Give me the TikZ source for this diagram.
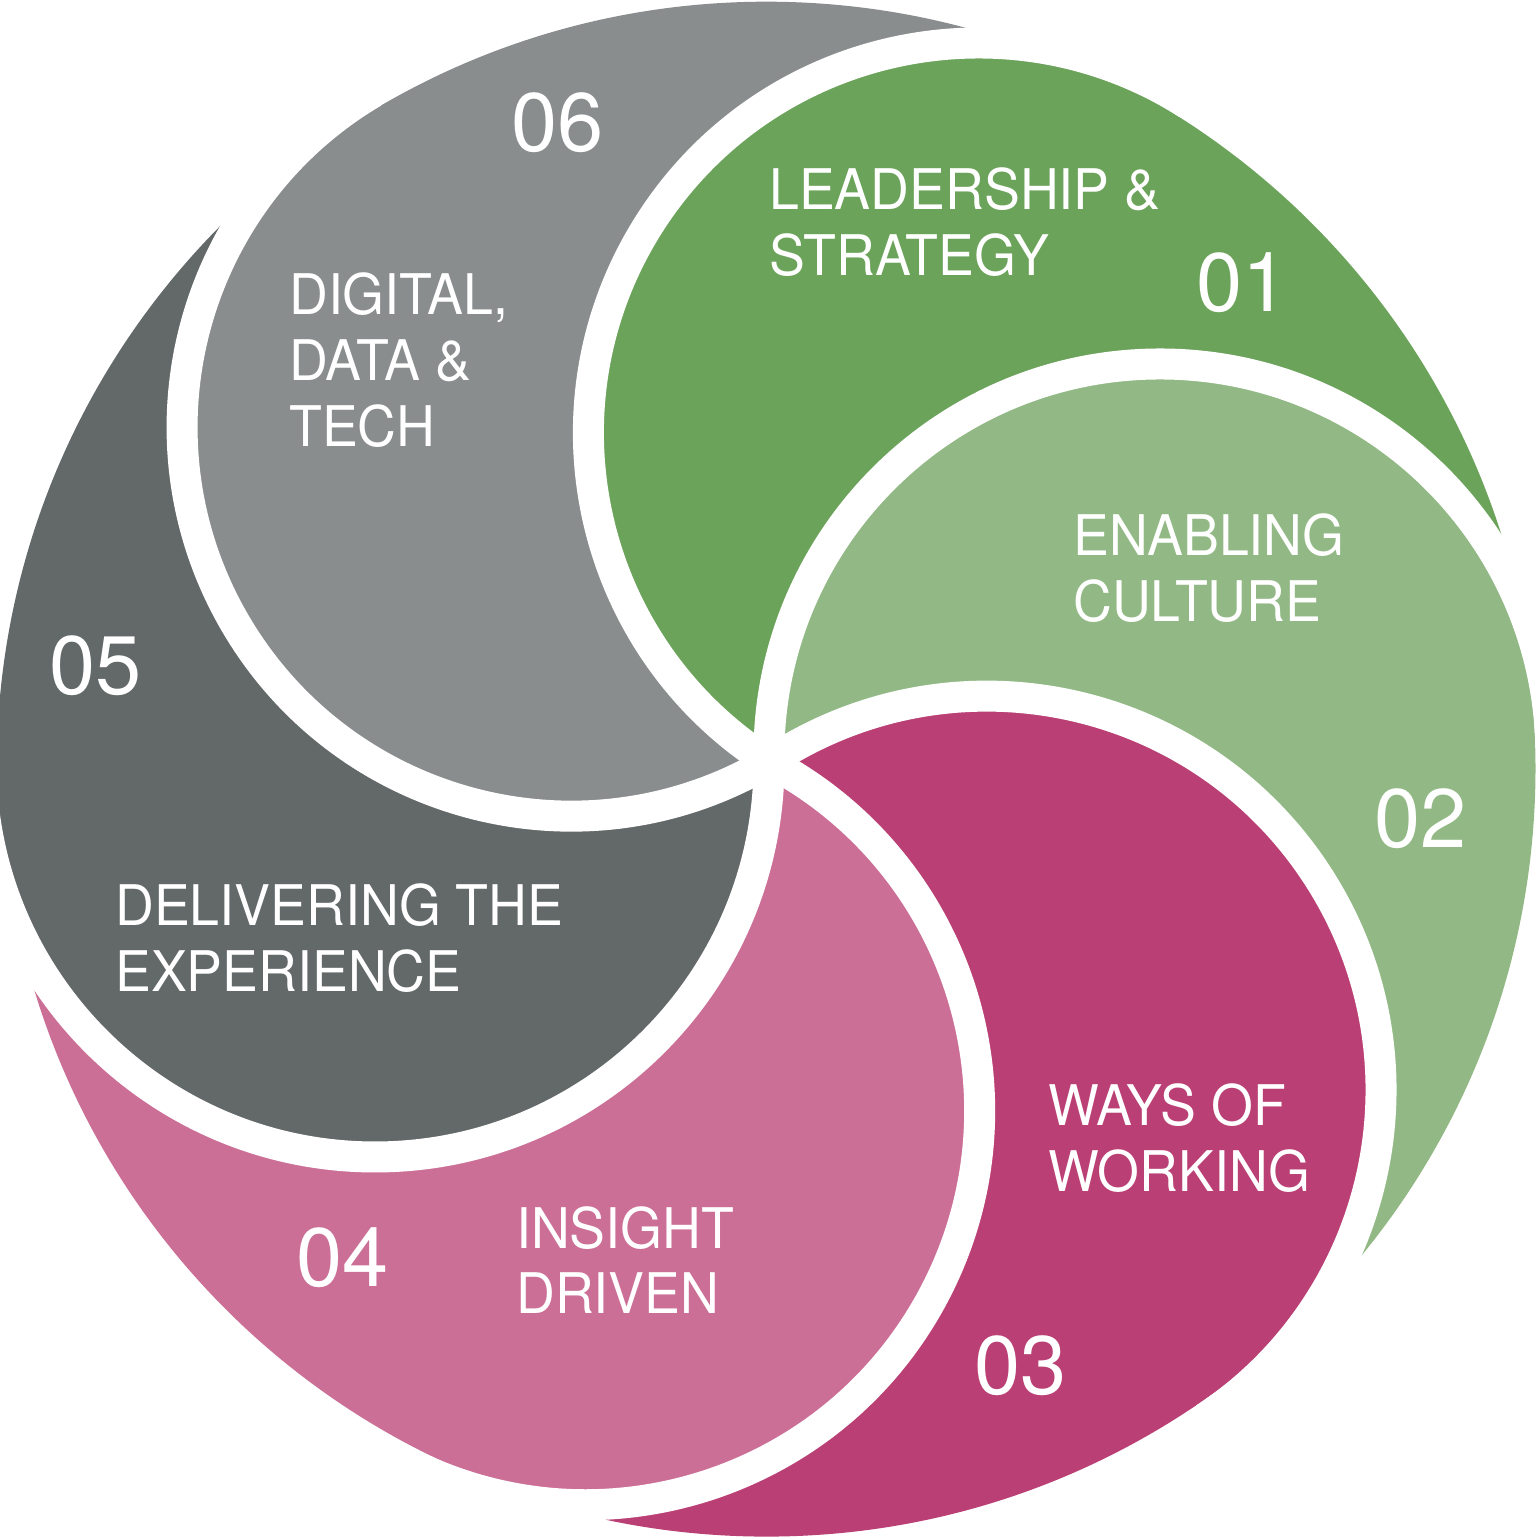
\documentclass[tikz,border=0pt]{standalone}
\usepackage{fontspec}
\setmainfont{TeX Gyre Heros}
\newfontfamily\lblfont{TeX Gyre Heros}[FakeStretch=0.96]
\usetikzlibrary{calc}
\definecolor{gray06}{HTML}{8A8D8E}
\definecolor{dgray05}{HTML}{636868}
\definecolor{green01}{HTML}{6CA35B}
\definecolor{lgreen02}{HTML}{92B985}
\definecolor{mag03}{HTML}{BA3F74}
\definecolor{pink04}{HTML}{CB6F96}
\begin{document}
\begin{tikzpicture}[x=1pt,y=1pt,
  whitegap/.style={white, line width=31pt},
  numtext/.style={anchor=base west, inner sep=0pt, text=white, font=\fontsize{83}{83}\selectfont},
  lbltext/.style={anchor=base west, inner sep=0pt, text=white, font=\lblfont\fontsize{56}{66}\selectfont}]
\useasboundingbox (0,0) rectangle (1540,1540);
\fill[white] (0,0) rectangle (1540,1540);
\coordinate (G) at (766.5,771.6);
\coordinate (O) at (769,778);
% circle centres
\coordinate (cA) at (978.5,1107);
\coordinate (cZ) at (1160,785);
\coordinate (cY) at (987,450);
\coordinate (cX) at (586,430);
\coordinate (cW) at (375,777);
\coordinate (cB) at (571,1113);
% far points of the circles
\coordinate (fA) at ($(cA)+(57.52:390pt)$);
\coordinate (fZ) at ($(cZ)+(1.03:391pt)$);
\coordinate (fY) at ($(cY)+(-56.4:394pt)$);
\coordinate (fX) at ($(cX)+(-117.74:394pt)$);
\coordinate (fW) at ($(cW)+(-179.85:394pt)$);
\coordinate (fB) at ($(cB)+(120.58:389pt)$);
% 01 green: own A, neighbour Z
\begin{scope}
\clip (G) circle[radius=771pt];
\fill[green01] (O) arc[start angle=-178.97, end angle=-358.97, radius=391pt]
  -- ($(G)!2!(fZ)$) -- ($(G)!2!(fA)$) -- (fA)
  arc[start angle=-302.48, end angle=-122.48, radius=390pt] -- cycle;
\end{scope}
% 02 light green: own Z, neighbour Y
\begin{scope}
\clip (G) circle[radius=769pt];
\fill[lgreen02] (O) arc[start angle=123.6, end angle=-56.4, radius=394pt]
  -- ($(G)!2!(fY)$) -- ($(G)!2!(fZ)$) -- (fZ)
  arc[start angle=-358.97, end angle=-178.97, radius=391pt] -- cycle;
\end{scope}
% 03 magenta: own Y, neighbour X
\begin{scope}
\clip (G) circle[radius=768.2pt];
\fill[mag03] (O) arc[start angle=62.26, end angle=-117.74, radius=394pt]
  -- ($(G)!2!(fX)$) -- ($(G)!2!(fY)$) -- (fY)
  arc[start angle=-56.4, end angle=123.6, radius=394pt] -- cycle;
\end{scope}
% 04 pink: own X, neighbour W
\begin{scope}
\clip (G) circle[radius=764.8pt];
\fill[pink04] (O) arc[start angle=0.145, end angle=-179.85, radius=394pt]
  -- ($(G)!2!(fW)$) -- ($(G)!2!(fX)$) -- (fX)
  arc[start angle=-117.74, end angle=62.26, radius=394pt] -- cycle;
\end{scope}
% 05 dark grey: own W, neighbour B
\begin{scope}
\clip (G) circle[radius=769.8pt];
\fill[dgray05] (O) arc[start angle=-59.42, end angle=-239.42, radius=389pt]
  -- ($(G)!2!(fB)$) -- ($(G)!2!(fW)$) -- (fW)
  arc[start angle=-179.85, end angle=0.145, radius=394pt] -- cycle;
\end{scope}
% 06 grey: own B, neighbour A
\begin{scope}
\clip (G) circle[radius=766.7pt];
\fill[gray06] (O) arc[start angle=-122.48, end angle=-302.48, radius=390pt]
  -- ($(G)!2!(fA)$) -- ($(G)!2!(fB)$) -- (fB)
  arc[start angle=-239.42, end angle=-59.42, radius=389pt] -- cycle;
\end{scope}
% white gaps
\draw[whitegap] (O) arc[start angle=-122.48, end angle=-302.48, radius=390pt];
\draw[whitegap] (O) arc[start angle=-178.97, end angle=-358.97, radius=391pt];
\draw[whitegap] (O) arc[start angle=123.6, end angle=-56.4, radius=394pt];
\draw[whitegap] (O) arc[start angle=62.26, end angle=-117.74, radius=394pt];
\draw[whitegap] (O) arc[start angle=0.145, end angle=-179.85, radius=394pt];
\draw[whitegap] (O) arc[start angle=-59.42, end angle=-239.42, radius=389pt];
\fill[white] (O) circle[radius=18pt];
% numbers
\node[numtext] (n06) at (511,1388) {06};
\node[numtext] (n01) at (1196,1228) {01};
\node[numtext] (n02) at (1374,692) {02};
\node[numtext] (n03) at (974,145) {03};
\node[numtext] (n04) at (296,253) {04};
\node[numtext] (n05) at (49,845) {05};
% labels
\node[lbltext] (l1a) at (769,1330) {LEADERSHIP \&};
\node[lbltext] (l1b) at (769,1264) {STRATEGY};
\node[lbltext] (l6a) at (289,1225) {DIGITAL,};
\node[lbltext] (l6b) at (289,1159) {DATA \&};
\node[lbltext] (l6c) at (289,1093) {TECH};
\node[lbltext] (l2a) at (1073,984) {ENABLING};
\node[lbltext] (l2b) at (1073,918) {CULTURE};
\node[lbltext] (l5a) at (115,614) {DELIVERING THE};
\node[lbltext] (l5b) at (115,548) {EXPERIENCE};
\node[lbltext] (l3a) at (1048,414) {WAYS OF};
\node[lbltext] (l3b) at (1048,348) {WORKING};
\node[lbltext] (l4a) at (516,291) {INSIGHT};
\node[lbltext] (l4b) at (516,226) {DRIVEN};
\end{tikzpicture}
\end{document}
